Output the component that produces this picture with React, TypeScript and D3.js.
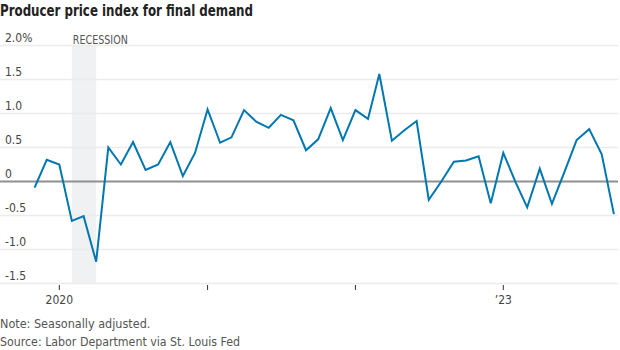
import React from "react";
import * as d3 from "d3";

const months: string[] = [
  "2019-11","2019-12",
  "2020-01","2020-02","2020-03","2020-04","2020-05","2020-06","2020-07","2020-08","2020-09","2020-10","2020-11","2020-12",
  "2021-01","2021-02","2021-03","2021-04","2021-05","2021-06","2021-07","2021-08","2021-09","2021-10","2021-11","2021-12",
  "2022-01","2022-02","2022-03","2022-04","2022-05","2022-06","2022-07","2022-08","2022-09","2022-10","2022-11","2022-12",
  "2023-01","2023-02","2023-03","2023-04","2023-05","2023-06","2023-07","2023-08","2023-09","2023-10",
];
const values: number[] = [
  -0.09, 0.32,
  0.25, -0.58, -0.51, -1.18, 0.5, 0.25, 0.58, 0.17, 0.25, 0.58, 0.08, 0.42,
  1.06, 0.57, 0.65, 1.05, 0.88, 0.79, 0.98, 0.9, 0.46, 0.62, 1.08, 0.61,
  1.05, 0.92, 1.58, 0.6, 0.75, 0.89, -0.27, 0.0, 0.29, 0.31, 0.37, -0.32,
  0.42, -0.02, -0.38, 0.19, -0.33, 0.14, 0.61, 0.77, 0.4, -0.48,
];
const yTicks: number[] = [2.0, 1.5, 1.0, 0.5, 0, -0.5, -1.0, -1.5];
const yTickLabels: string[] = ["2.0%", "1.5", "1.0", "0.5", "0", "-0.5", "-1.0", "-1.5"];
const xTicks: string[] = ["2020-01", "2021-01", "2022-01", "2023-01"];
const xTickLabels: string[] = ["2020", "", "", "\u201923"];
const recession: string[] = ["2020-02", "2020-04"];

const parse = d3.timeParse("%Y-%m");
const FONT = "'Liberation Sans Narrow', 'DejaVu Sans Condensed', 'Roboto', sans-serif";

export default function App() {
  const W = 620, H = 350;
  const x = d3.scaleTime()
    .domain([parse("2020-01")!, parse("2023-01")!])
    .range([59.3, 503.3]);
  const y = d3.scaleLinear().domain([-1.5, 2.0]).range([283.5, 45.5]);
  const data = months.map((m, i) => ({ d: parse(m)!, v: values[i] }));
  const line = d3.line<{ d: Date; v: number }>()
    .x((p) => x(p.d))
    .y((p) => y(p.v));
  const rx0 = x(parse(recession[0])!);
  const rx1 = x(parse(recession[1])!);

  return (
    <svg width={W} height={H} style={{ position: "absolute", left: 0, top: 0 }} fontFamily={FONT}>
      <rect x={0} y={0} width={W} height={H} fill="#fff" />
      <text x={0} y={16} fontSize={16} fontWeight="bold" fill="#222" textLength={253} lengthAdjust="spacingAndGlyphs">
        Producer price index for final demand
      </text>
      <rect x={rx0} y={y(2.0)} width={rx1 - rx0} height={y(-1.5) - y(2.0)} fill="#f0f1f3" />
      <text x={rx0 + 1} y={44} fontSize={12} fill="#555" textLength={55} lengthAdjust="spacingAndGlyphs">RECESSION</text>
      {yTicks.map((t, i) => (
        <g key={t}>
          {t !== 0 && (
            <line x1={0} x2={618} y1={y(t)} y2={y(t)} stroke="#ececec" strokeWidth={1.5} />
          )}
          <text x={5} y={y(t) - 4} fontSize={12} fill="#444">{yTickLabels[i]}</text>
        </g>
      ))}
      {xTicks.map((t, i) => {
        const xp = x(parse(t)!);
        return (
          <g key={t}>
            <line x1={xp} x2={xp} y1={285} y2={290} stroke="#333" strokeWidth={1} />
            <text x={xp} y={304} fontSize={12} fill="#444" textAnchor="middle">{xTickLabels[i]}</text>
          </g>
        );
      })}
      <line x1={0} x2={618} y1={y(0)} y2={y(0)} stroke="#8f8f8f" strokeWidth={2} />
      <path d={line(data) || ""} fill="none" stroke="#0077b0" strokeWidth={2} strokeLinejoin="miter" />
      <text x={0} y={328} fontSize={12.5} fill="#555">Note: Seasonally adjusted.</text>
      <text x={0} y={346} fontSize={12.5} fill="#555" textLength={240} lengthAdjust="spacingAndGlyphs">Source: Labor Department via St. Louis Fed</text>
    </svg>
  );
}
